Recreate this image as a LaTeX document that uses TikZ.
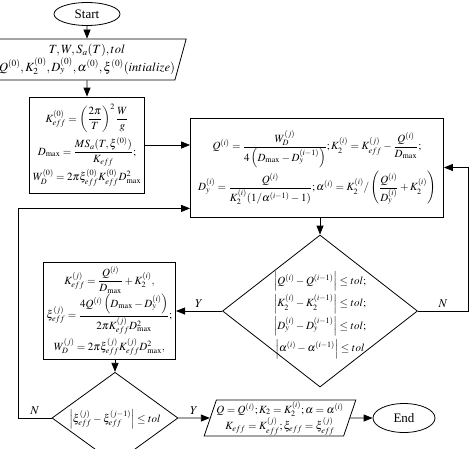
\documentclass[tikz,border=0pt]{standalone}
\usepackage{amsmath}
\usepackage{mathptmx}
\usepackage{fontspec}
\setmainfont{Liberation Serif}
\usetikzlibrary{arrows,arrows.meta,shapes.geometric}

\begin{document}
\begin{tikzpicture}[->,>={Triangle[length=9pt,width=7pt]},auto,thick,x=1pt,y=-1pt,
                    font=\fontsize{11}{13}\selectfont]
  \tikzstyle{term}=[draw,ellipse,inner sep=0pt,font=\fontsize{13}{15}\selectfont]
  \tikzstyle{io}=[draw,trapezium,trapezium left angle=70,trapezium right angle=110,
                  trapezium stretches=true,inner sep=0pt,align=center]
  \tikzstyle{proc}=[draw,rectangle,align=center]
  \tikzstyle{test}=[draw,diamond,inner sep=0pt]
  \tikzstyle{yn}=[above,font=\fontsize{12}{14}\selectfont]

  \useasboundingbox (0,0) rectangle (474,448);

  \node[term,minimum width=66,minimum height=23] (S) at (87,14) {Start};
  \node[io,minimum width=170,minimum height=41,font=\fontsize{12.5}{15}\selectfont] (In) at (87,59.5)
    {$T,W,S_a(T),tol$\\ $Q^{(0)},K_2^{(0)},D_y^{(0)},\alpha^{(0)},\xi^{(0)}(intialize)$};
  \node[proc,minimum width=113,minimum height=96] (B1) at (87,145)
    {$K_{eff}^{(0)}=\left(\dfrac{2\pi}{T}\right)^2\dfrac{W}{g}$\\[4pt]
     $D_{\max}=\dfrac{MS_a(T,\xi^{(0)})}{K_{eff}};$\\[2pt]
     $W_D^{(0)}=2\pi\xi_{eff}^{(0)}K_{eff}^{(0)}D_{\max}^2$};
  \node[proc,minimum width=253,minimum height=99] (B2) at (317,167.5)
    {$Q^{(i)}=\dfrac{W_D^{(j)}}{4\left(D_{\max}-D_y^{(i-1)}\right)};K_2^{(i)}=K_{eff}^{(j)}-\dfrac{Q^{(i)}}{D_{\max}};$\\[2pt]
     $D_y^{(i)}=\dfrac{Q^{(i)}}{K_2^{(i)}(1/\alpha^{(i-1)}-1)};\alpha^{(i)}=K_2^{(i)}/\left(\dfrac{Q^{(i)}}{D_y^{(i)}}+K_2^{(i)}\right)$};
  \node[test,minimum width=195,minimum height=152] (D1) at (320,311)
    {\smash{\raisebox{-7pt}{$\begin{array}{c}
       \left|Q^{(i)}-Q^{(i-1)}\right|\le tol;\\[6pt]
       \left|K_2^{(i)}-K_2^{(i-1)}\right|\le tol;\\[6pt]
       \left|D_y^{(i)}-D_y^{(i-1)}\right|\le tol;\\[6pt]
       \left|\alpha^{(i)}-\alpha^{(i-1)}\right|\le tol
     \end{array}$}}};
  \node[proc,minimum width=123,minimum height=97] (B3) at (109.5,311)
    {$K_{eff}^{(j)}=\dfrac{Q^{(i)}}{D_{\max}}+K_2^{(i)},$\\
     $\xi_{eff}^{(j)}=\dfrac{4Q^{(i)}\left(D_{\max}-D_y^{(i)}\right)}{2\pi K_{eff}^{(j)}D_{\max}^2};$\\[3pt]
     $W_D^{(j)}=2\pi\xi_{eff}^{(j)}K_{eff}^{(j)}D_{\max}^2,$};
  \node[test,minimum width=126,minimum height=54] (D2) at (115,418)
    {\smash{\raisebox{-4pt}{$\left|\xi_{eff}^{(j)}-\xi_{eff}^{(j-1)}\right|\le tol$}}};
  \node[io,minimum width=147,minimum height=36] (P2) at (280,418)
    {$Q=Q^{(i)};K_2=K_2^{(i)};\alpha=\alpha^{(i)}$\\
     $K_{eff}=K_{eff}^{(j)};\xi_{eff}=\xi_{eff}^{(j)}$};
  \node[term,minimum width=62,minimum height=29] (E) at (404,418) {End};

  \coordinate (r) at (468,311);
  \coordinate (l) at (18,418);

  \path (S) edge (In)
        (In) edge (B1)
        (B1) edge (B1.east -| B2.west)
        (B2.south -| D1.north) edge (D1.north)
        (D1) edge node[yn] {$Y$} (D1.west -| B3.east)
        (B3.south -| D2.north) edge (D2.north)
        (D2) edge node[yn] {$Y$} (P2)
        (P2) edge (E);
  \draw (D1) -- node[yn] {$N$} (r) |- (B2.east);
  \draw (D2) -- node[yn] {$N$} (l) |- ([yshift=9pt]B2.south west);
\end{tikzpicture}
\end{document}
